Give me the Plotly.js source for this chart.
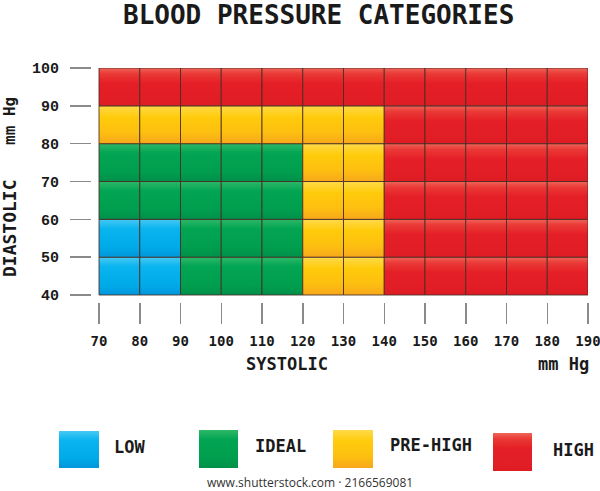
<!DOCTYPE html>
<html>
<head>
<meta charset="utf-8">
<script src="https://cdn.plot.ly/plotly-3.0.1.min.js"></script>
<style>html,body{margin:0;padding:0;background:#fff;}#chart{width:600px;height:491px;}</style>
</head>
<body>
<div id="chart"></div>
<script>
// ---- DATA ----
var systolicEdges = [70, 80, 90, 100, 110, 120, 130, 140, 150, 160, 170, 180, 190];
var diastolicEdges = [40, 50, 60, 70, 80, 90, 100];
// category of each cell, rows from bottom (40-50) to top (90-100), columns 70-80 ... 180-190
var cellCategory = [
  ['LOW','LOW','IDEAL','IDEAL','IDEAL','PRE','PRE','HIGH','HIGH','HIGH','HIGH','HIGH'],
  ['LOW','LOW','IDEAL','IDEAL','IDEAL','PRE','PRE','HIGH','HIGH','HIGH','HIGH','HIGH'],
  ['IDEAL','IDEAL','IDEAL','IDEAL','IDEAL','PRE','PRE','HIGH','HIGH','HIGH','HIGH','HIGH'],
  ['IDEAL','IDEAL','IDEAL','IDEAL','IDEAL','PRE','PRE','HIGH','HIGH','HIGH','HIGH','HIGH'],
  ['PRE','PRE','PRE','PRE','PRE','PRE','PRE','HIGH','HIGH','HIGH','HIGH','HIGH'],
  ['HIGH','HIGH','HIGH','HIGH','HIGH','HIGH','HIGH','HIGH','HIGH','HIGH','HIGH','HIGH']
];
var categoryKeys = ['LOW', 'IDEAL', 'PRE', 'HIGH'];
var categoryLabels = ['LOW', 'IDEAL', 'PRE-HIGH', 'HIGH'];
var xTickVals = [70, 80, 90, 100, 110, 120, 130, 140, 150, 160, 170, 180, 190];
var yTickVals = [40, 50, 60, 70, 80, 90, 100];

// ---- STYLES ----
var gradients = {
  LOW:   [[0, '#0096da'], [0.25, '#00aae9'], [0.75, '#0ab4ee'], [1, '#45c9f4']],
  IDEAL: [[0, '#00904a'], [0.25, '#009e4e'], [0.75, '#02a553'], [1, '#2db868']],
  PRE:   [[0, '#f7a81b'], [0.3, '#fdbf10'], [0.7, '#ffcb0a'], [1, '#ffda4a']],
  HIGH:  [[0, '#df1c24'], [0.6, '#e51f27'], [0.85, '#ea3a36'], [1, '#f0645a']]
};
var W = 600, H = 491;
var plotLeft = 92, plotRight = 588, plotTop = 68, plotBottom = 302;
var cellLeft = 99, cellBottom = 295;
var pxPerX = (plotRight - cellLeft) / (190 - 70);
var pxPerY = (cellBottom - plotTop) / (100 - 40);
var xRange = [70 - (cellLeft - plotLeft) / pxPerX, 190];
var yRange = [40 - (plotBottom - cellBottom) / pxPerY, 100];
var monoBold = {family: 'DejaVu Sans Mono', weight: 'bold', color: '#1a1a1a'};
function f(extra) { return Object.assign({}, monoBold, extra); }

var traces = [];
for (var r = 0; r < diastolicEdges.length - 1; r++) {
  for (var c = 0; c < systolicEdges.length - 1; c++) {
    var x0 = systolicEdges[c], x1 = systolicEdges[c + 1];
    var y0 = diastolicEdges[r], y1 = diastolicEdges[r + 1];
    var cat = cellCategory[r][c];
    traces.push({
      type: 'scatter', mode: 'lines', xaxis: 'x', yaxis: 'y',
      x: [x0, x1, x1, x0, x0], y: [y0, y0, y1, y1, y0],
      fill: 'toself',
      fillgradient: {type: 'vertical', colorscale: gradients[cat]},
      line: {color: 'rgba(70,45,35,0.85)', width: 1},
      hoverinfo: 'skip', showlegend: false
    });
  }
}

// legend swatches (layout positions in pixels)
var swatchBoxes = [[59, 99, 431, 468], [199, 238, 430, 468], [333, 373, 430, 468], [493, 532, 433, 471]];
var labelPos = [[129, 447], [280, 446], [431, 445], [573, 450]];
var annotations = [];
categoryKeys.forEach(function (k, i) {
  var b = swatchBoxes[i];
  traces.push({
    type: 'scatter', mode: 'lines', xaxis: 'x2', yaxis: 'y2',
    x: [b[0], b[1], b[1], b[0], b[0]], y: [b[3], b[3], b[2], b[2], b[3]],
    fill: 'toself', fillgradient: {type: 'vertical', colorscale: gradients[k]},
    line: {width: 0, color: 'rgba(0,0,0,0)'}, hoverinfo: 'skip', showlegend: false
  });
  annotations.push({xref: 'paper', yref: 'paper', x: labelPos[i][0] / W, y: 1 - labelPos[i][1] / H,
    text: categoryLabels[i], showarrow: false, xanchor: 'center', yanchor: 'middle', font: f({size: 17})});
});

annotations.push(
  {xref: 'paper', yref: 'paper', x: 318 / W, y: 1 - 15 / H, text: 'BLOOD PRESSURE CATEGORIES',
   showarrow: false, xanchor: 'center', yanchor: 'middle', font: f({size: 26})},
  {xref: 'paper', yref: 'paper', x: 9 / W, y: 1 - 121 / H, text: 'mm Hg', textangle: -90,
   showarrow: false, xanchor: 'center', yanchor: 'middle', font: f({size: 16})},
  {xref: 'paper', yref: 'paper', x: 9 / W, y: 1 - 228 / H, text: 'DIASTOLIC', textangle: -90,
   showarrow: false, xanchor: 'center', yanchor: 'middle', font: f({size: 18})},
  {xref: 'paper', yref: 'paper', x: 287 / W, y: 1 - 364 / H, text: 'SYSTOLIC',
   showarrow: false, xanchor: 'center', yanchor: 'middle', font: f({size: 17})},
  {xref: 'paper', yref: 'paper', x: 563 / W, y: 1 - 364 / H, text: 'mm Hg',
   showarrow: false, xanchor: 'center', yanchor: 'middle', font: f({size: 17})},
  {xref: 'paper', yref: 'paper', x: 310 / W, y: 1 - 482 / H, text: 'www.shutterstock.com · 2166569081',
   showarrow: false, xanchor: 'center', yanchor: 'middle', font: {family: 'Open Sans', size: 12, color: '#333'}}
);

var layout = {
  width: W, height: H,
  margin: {l: 0, r: 0, t: 0, b: 0},
  paper_bgcolor: '#ffffff', plot_bgcolor: 'rgba(0,0,0,0)',
  showlegend: false,
  xaxis: {domain: [plotLeft / W, plotRight / W], range: xRange, anchor: 'y',
    tickmode: 'array', tickvals: xTickVals, ticks: 'outside', ticklen: 21, tickwidth: 1.5, tickcolor: '#8a8a8a',
    showgrid: false, zeroline: false, showline: false, ticklabelstandoff: 5, ticklabeloverflow: 'allow',
    tickfont: f({size: 14})},
  yaxis: {domain: [1 - plotBottom / H, 1 - plotTop / H], range: yRange, anchor: 'x',
    tickmode: 'array', tickvals: yTickVals, ticks: 'outside', ticklen: 21, tickwidth: 1.5, tickcolor: '#8a8a8a',
    showgrid: false, zeroline: false, showline: false, ticklabelstandoff: 8, ticklabeloverflow: 'allow',
    tickfont: {family: 'Liberation Mono', weight: 'bold', size: 15, color: '#1a1a1a'}},
  xaxis2: {domain: [0, 1], range: [0, W], anchor: 'y2', visible: false, fixedrange: true},
  yaxis2: {domain: [0, 1 - 420 / H], range: [H, 420], anchor: 'x2', visible: false, fixedrange: true},
  annotations: annotations
};

Plotly.newPlot('chart', traces, layout, {displayModeBar: false, staticPlot: true});
</script>
</body>
</html>
